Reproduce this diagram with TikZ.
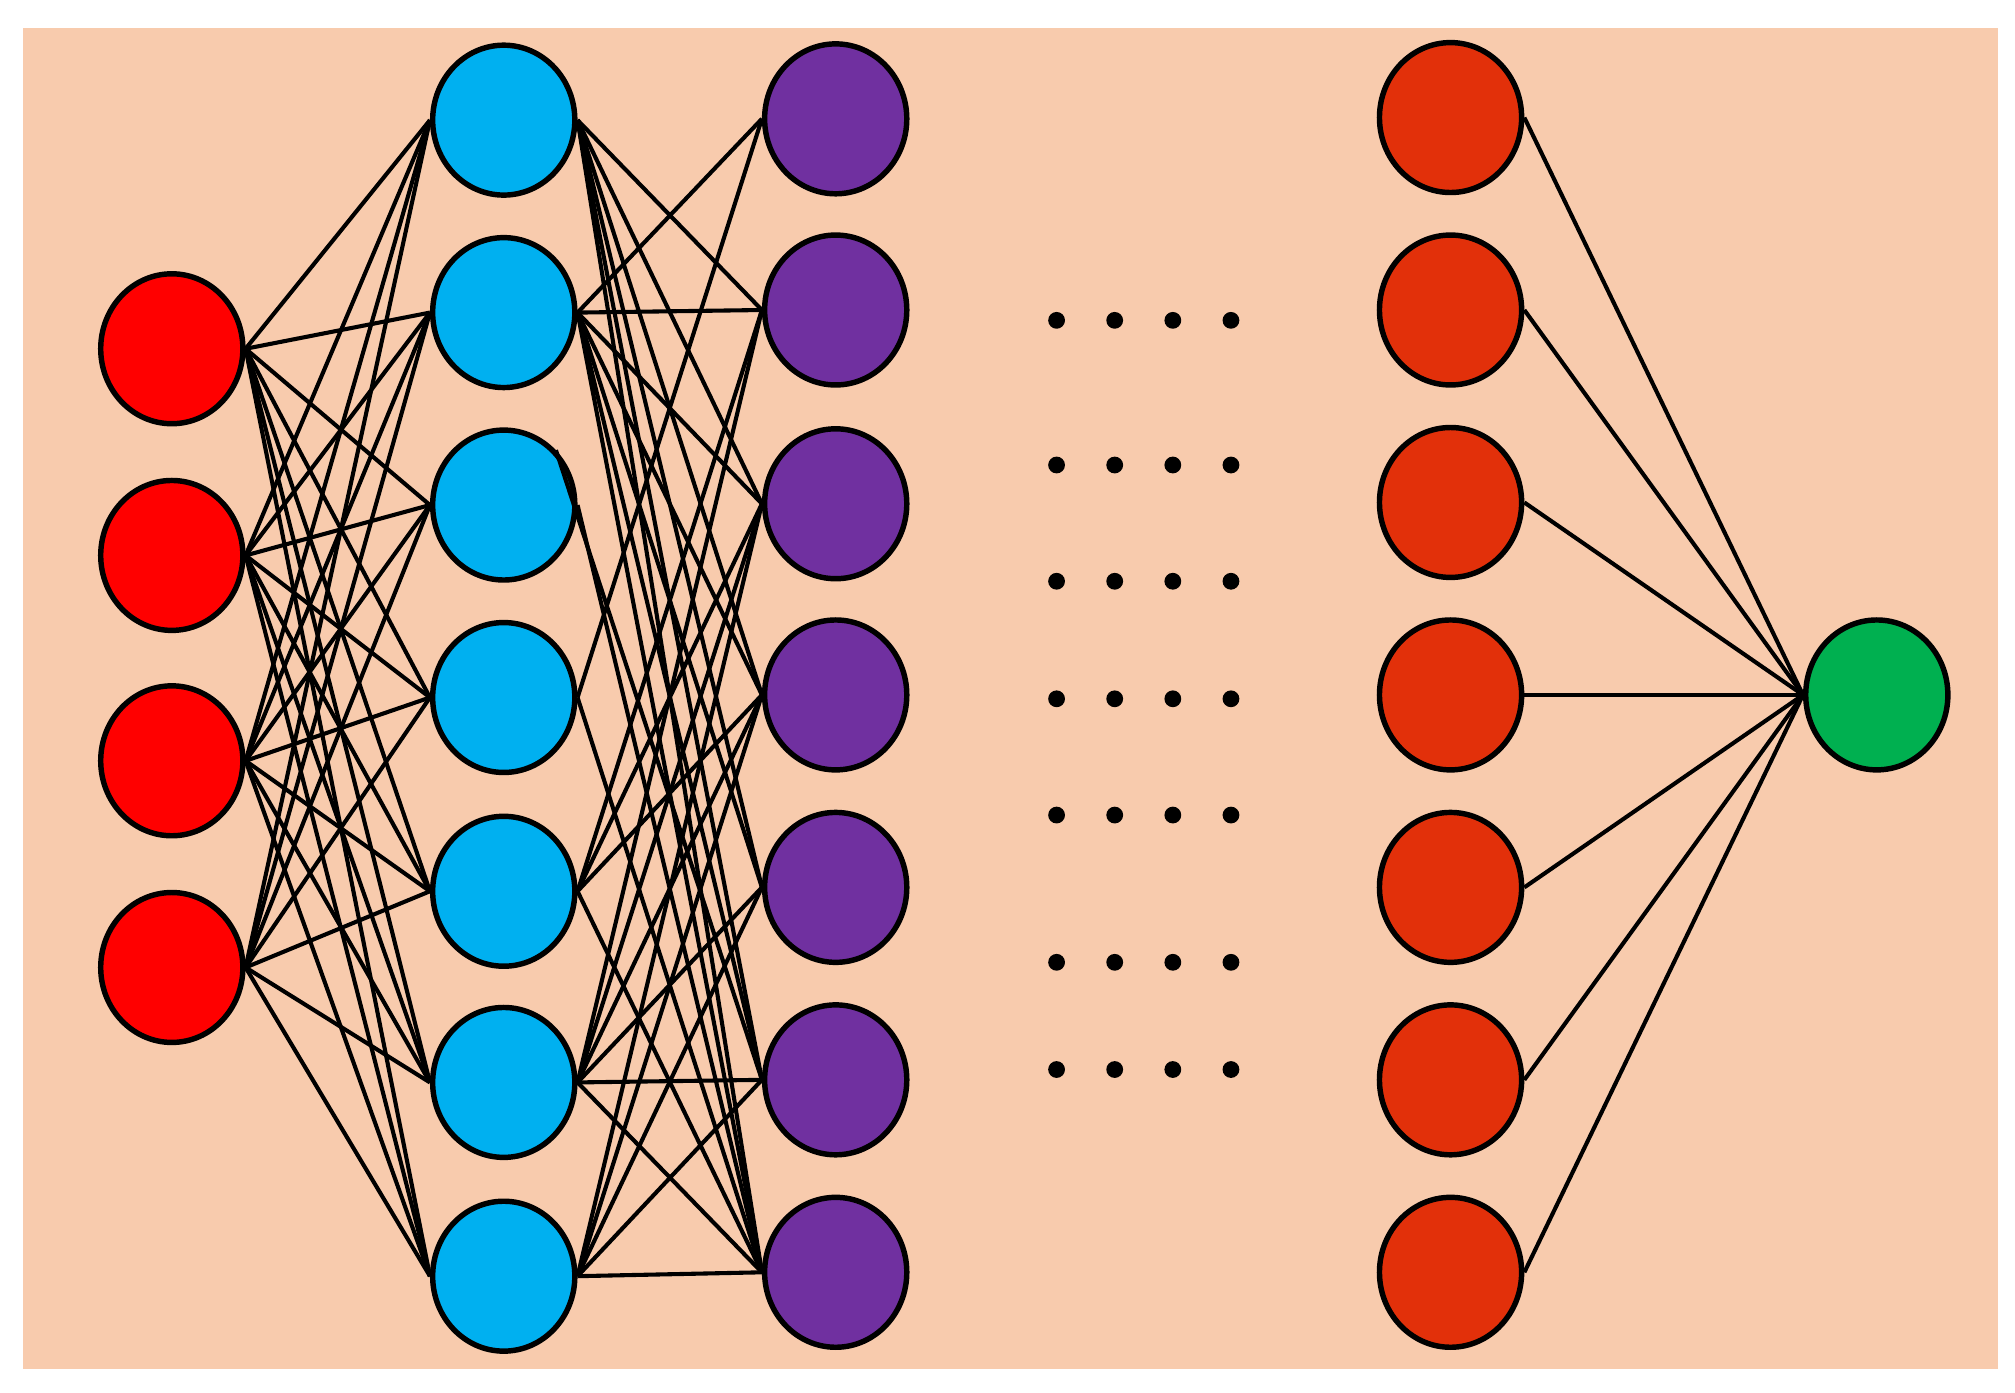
\documentclass[tikz,border=0pt]{standalone}
\usetikzlibrary{shapes.geometric}
\definecolor{bg}{HTML}{F8CBAD}
\definecolor{cred}{HTML}{FF0000}
\definecolor{cblue}{HTML}{00B0F0}
\definecolor{cpurp}{HTML}{7030A0}
\definecolor{corange}{HTML}{E2300A}
\definecolor{cgreen}{HTML}{00B050}
\tikzset{neuron/.style={ellipse,draw=black,line width=1.2pt,minimum width=1.1cm,minimum height=1.16cm,inner sep=0pt},
edge/.style={line width=0.9pt,black},
dotm/.style={circle,fill=black,minimum size=0.13cm,inner sep=0pt}}
\begin{document}
\begin{tikzpicture}[x=0.01cm,y=-0.01cm]
\useasboundingbox (0,0) rectangle (1560,1078);
\fill[white] (0,0) rectangle (1560,1078);
\fill[bg] (18,22) rectangle (1547,1060);
\foreach \y [count=\i] in {270,430,589,749} \node[neuron,fill=cred] (r\i) at (133,\y) {};
\foreach \y [count=\i] in {93,242,391,540,690,838,988} \node[neuron,fill=cblue] (b\i) at (390,\y) {};
\foreach \y [count=\i] in {92,240,390,538,687,836,985} \node[neuron,fill=cpurp] (p\i) at (647,\y) {};
\foreach \y [count=\i] in {91,240,389,538,687,836,985} \node[neuron,fill=corange] (o\i) at (1123,\y) {};
\node[neuron,fill=cgreen] (g) at (1453,538) {};
\foreach \i in {1,...,4} \foreach \j in {1,...,7} \draw[edge] (r\i.east) -- (b\j.west);
\foreach \i/\j in {1/2,1/3,1/4,1/5,1/6,1/7,
  2/1,2/2,2/3,2/4,2/5,2/6,2/7,
  3/7,
  4/1,4/7,
  5/2,5/3,5/4,5/7,
  6/2,6/3,6/4,6/5,6/6,6/7,
  7/3,7/4,7/5,7/6,7/7}
  \draw[edge] (b\i.east) -- (p\j.west);
\draw[edge] (b3.north east) -- (p6.west);
\foreach \i in {1,...,7} \draw[edge] (o\i.east) -- (g.west);
\foreach \y [count=\k] in {248,360,450,541,631,745,828}
  \foreach \x [count=\m] in {818,863,908,953} \node[dotm] (d\k\m) at (\x,\y) {};
\end{tikzpicture}
\end{document}
